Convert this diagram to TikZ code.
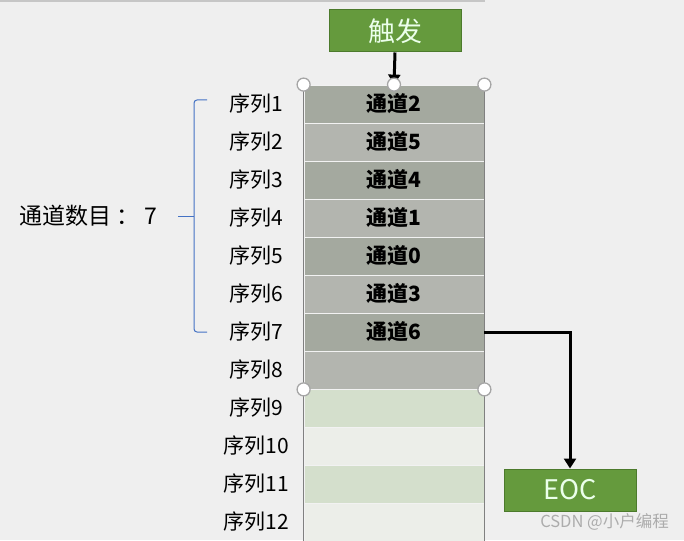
\documentclass[tikz,border=0pt]{standalone}
\usepackage{fontspec}
\setmainfont{Noto Sans CJK SC}
\usetikzlibrary{arrows.meta}
\definecolor{bgcol}{HTML}{EFEFEF}
\definecolor{btngreen}{HTML}{659A3D}
\definecolor{btnedge}{HTML}{4C7A2C}
\definecolor{rowdark}{HTML}{A4A99F}
\definecolor{rowlight}{HTML}{B3B5AF}
\definecolor{rowgreen}{HTML}{D4DFCC}
\definecolor{rowpale}{HTML}{ECEEE9}
\definecolor{bracecol}{HTML}{4472C4}
\tikzset{
  btn/.style={draw=btnedge, line width=1pt, fill=btngreen, text=white!92!green,
    minimum width=132pt, minimum height=42pt, inner sep=0pt, font=\fontsize{27}{30}\selectfont},
  rowbox/.style={draw=white!90!gray, line width=0.8pt, minimum width=180pt, minimum height=38pt,
    inner sep=0pt, font=\fontsize{21}{24}\selectfont\bfseries},
  seqlabel/.style={inner sep=0pt, font=\fontsize{21}{24}\selectfont},
  handle/.style={circle, draw=gray!70, fill=white, line width=1.3pt, minimum size=13pt, inner sep=0pt},
  flow/.style={line width=3pt, -{Triangle[length=10pt,width=12pt]}}
}
\begin{document}
\begin{tikzpicture}[x=1pt,y=-1pt]
  \useasboundingbox (0,0) rectangle (684,540);
  \fill[bgcol] (0,0) rectangle (684,540);
  \fill[gray!45] (0,0) rectangle (485,2);

  % rows of the sequence table
  \foreach \i/\chan/\col in {1/通道2/rowdark, 2/通道5/rowlight, 3/通道4/rowdark,
      4/通道1/rowlight, 5/通道0/rowdark, 6/通道3/rowlight, 7/通道6/rowdark,
      8/{}/rowlight, 9/{}/rowgreen, 10/{}/rowpale, 11/{}/rowgreen, 12/{}/rowpale} {
    \node[rowbox, fill=\col] (r\i) at (394, 66+38*\i) {\chan};
    \node[seqlabel] (s\i) at (256, 66+38*\i) {序列\i};
  }
  \draw[gray, line width=1pt] (r1.north west) -- (r12.south west);
  \draw[gray, line width=1pt] (r1.north east) -- (r12.south east);

  \node[btn] (trig) at (395,31) {触发};
  \node[btn] (eoc) at (570,490) {EOC};
  \draw[flow] (trig.south) -- (r1.north);
  \draw[flow] (r7.east) -| (eoc.north);

  % brace and count
  \coordinate (btop) at (207,100);
  \coordinate (bbot) at (207,332);
  \draw[bracecol, line width=1pt, rounded corners=3pt]
    (btop) -- (194,100) -- (194,332) -- (bbot);
  \draw[bracecol, line width=1pt] (194,216) -- (178,216);
  \node[anchor=west, inner sep=0pt, font=\fontsize{23}{26}\selectfont] (count) at (19,216) {通道数目 ： 7};

  % selection handles
  \foreach \p in {r1.north west, r1.north, r1.north east, r8.south west, r8.south east}
    \node[handle] at (\p) {};

  \node[anchor=east, inner sep=0pt, text=gray!65, font=\fontsize{16.5}{18}\selectfont] (mark) at (669,522) {CSDN @小户编程};
\end{tikzpicture}
\end{document}
